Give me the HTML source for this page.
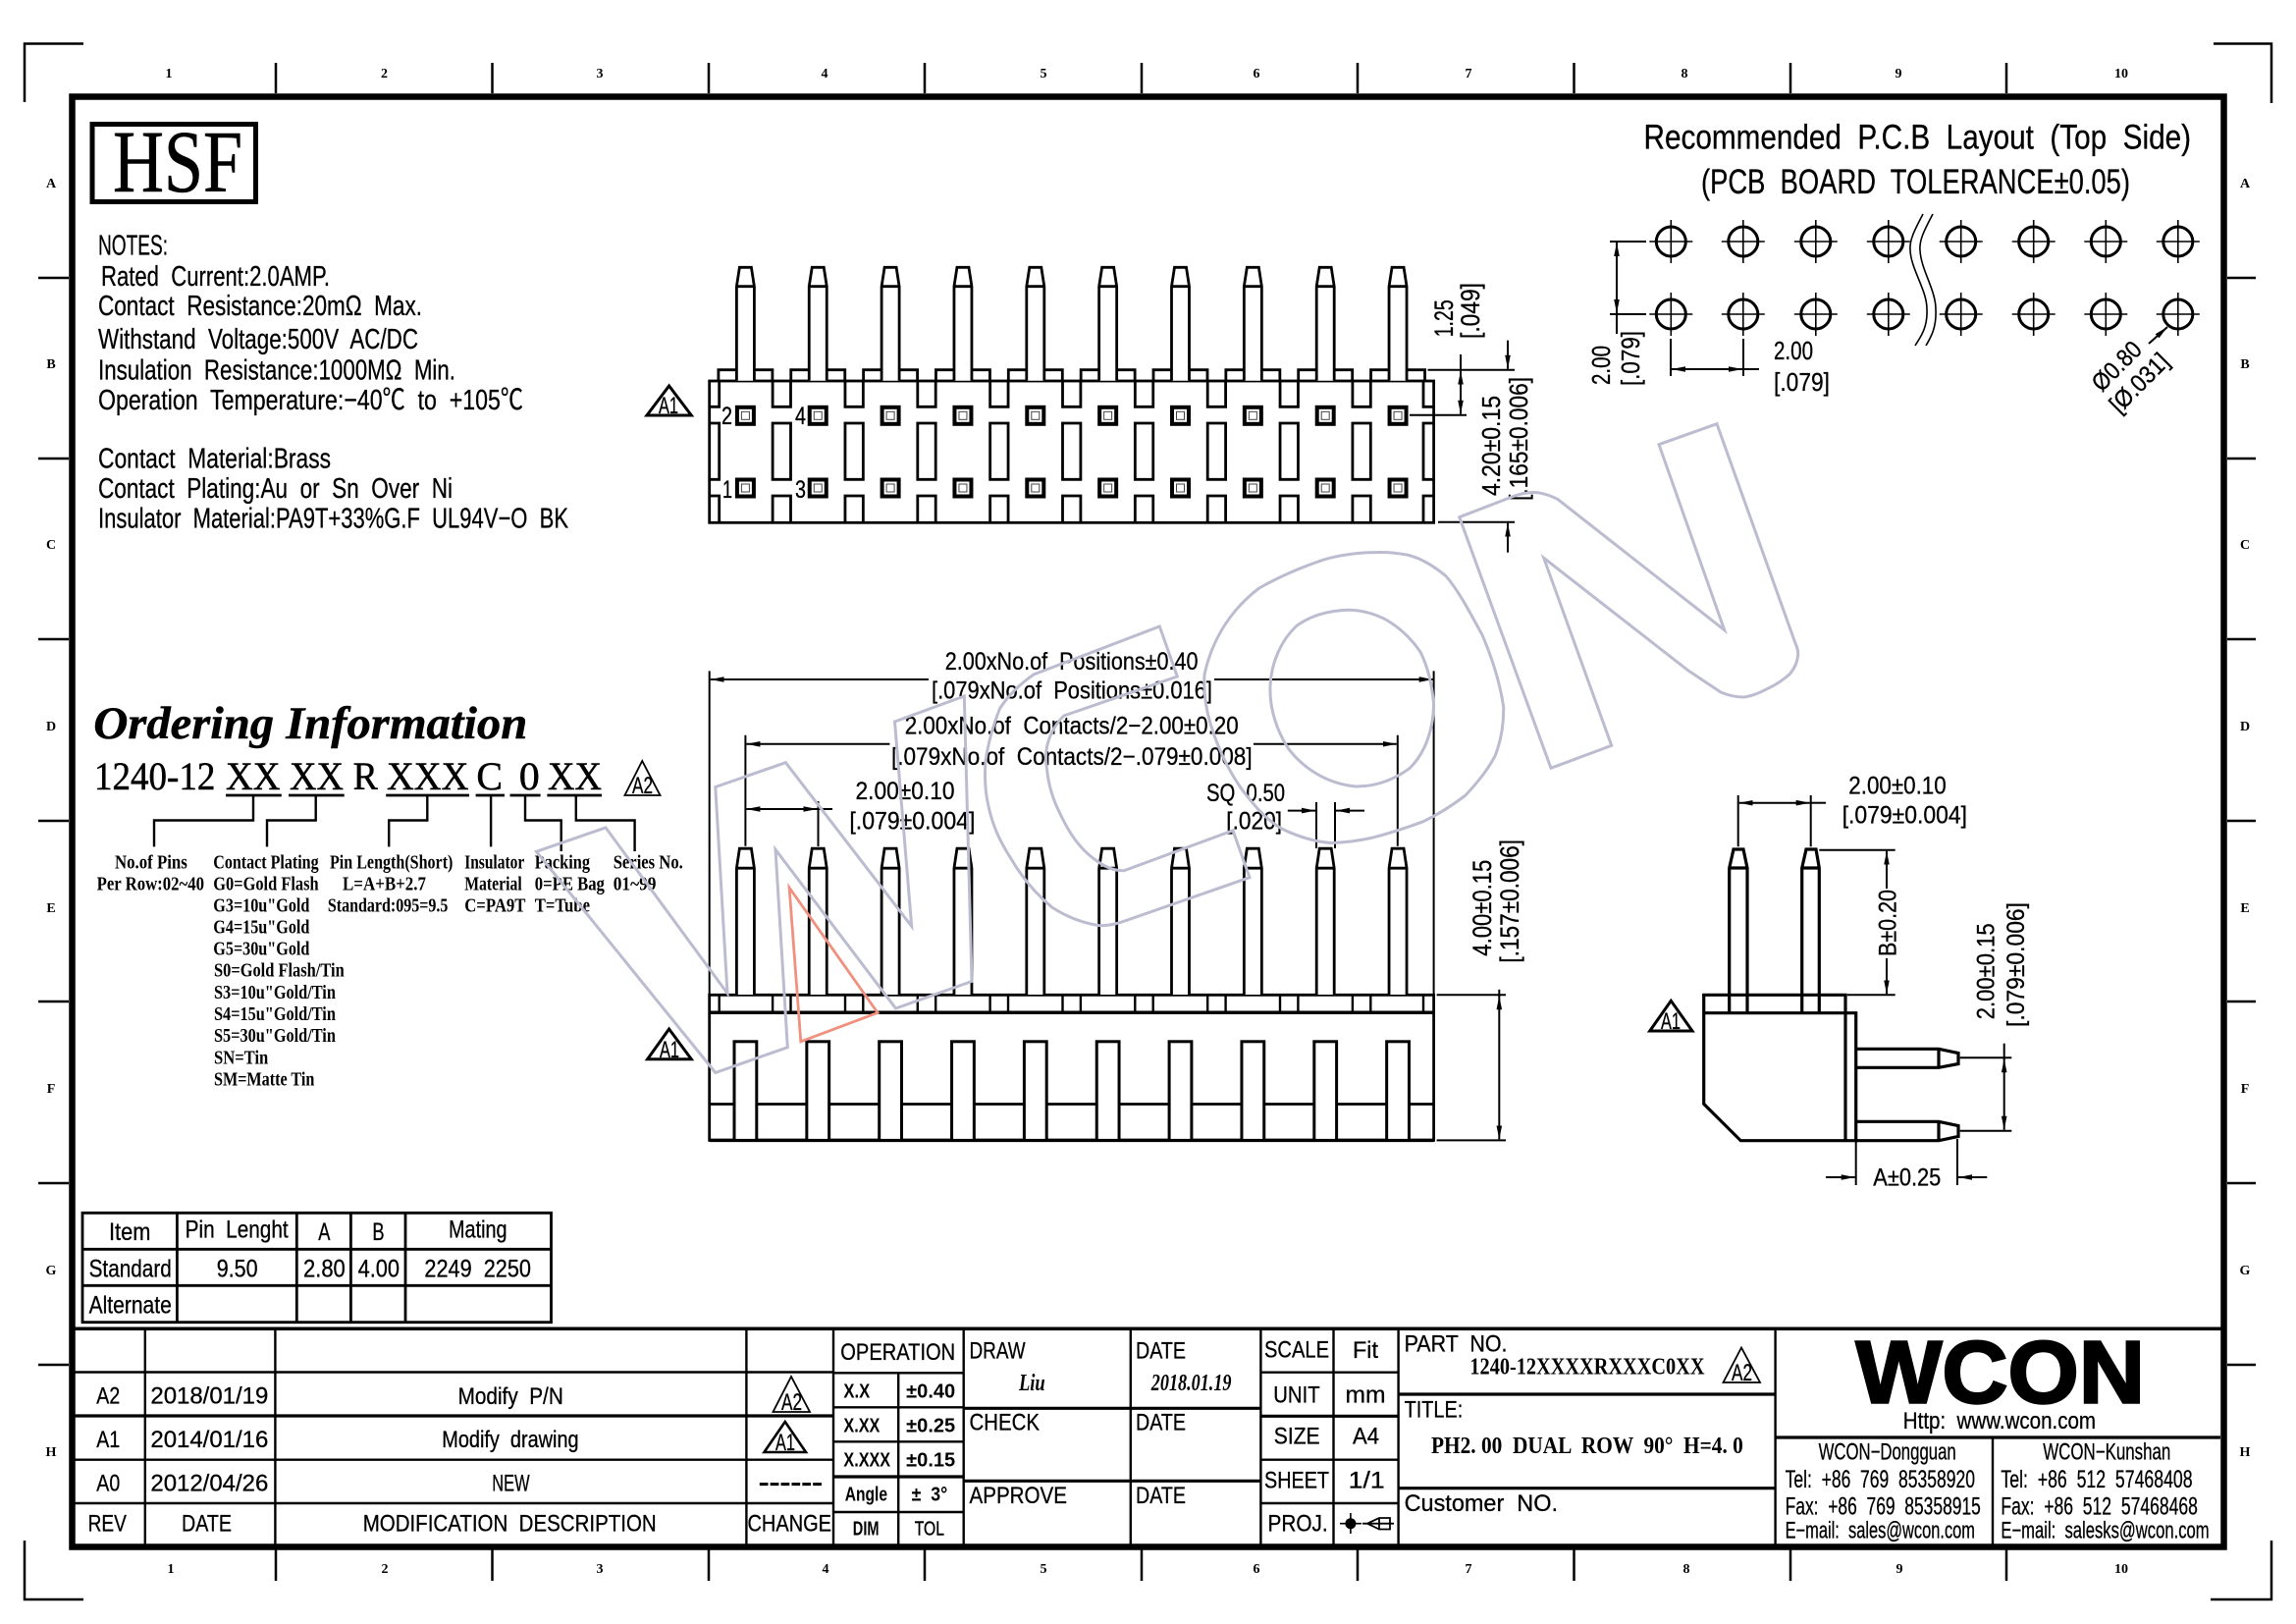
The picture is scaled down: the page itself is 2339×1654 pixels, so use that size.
<!DOCTYPE html>
<html><head><meta charset="utf-8"><title>Drawing</title>
<style>
html,body{margin:0;padding:0;background:#fff}
svg{display:block}
text{fill:#000;font-family:"Liberation Sans","Noto Sans CJK SC",sans-serif;font-size:25px;stroke:#000;stroke-width:.3px;white-space:pre}
.b{font-size:24px}
.n{font-size:29px}
.t{font-size:32px}
.sf{font-family:"Liberation Serif",serif;font-weight:bold;font-size:14px;stroke:none}
.o{font-family:"Liberation Serif",serif;font-size:19.5px;font-weight:bold;stroke:none}
.m{font-family:"Liberation Mono",monospace;font-weight:bold;font-size:24px;stroke-width:0}
.k{fill:none;stroke:#000;stroke-width:2.8}
.d{fill:none;stroke:#000;stroke-width:2}
.w{fill:none;stroke:#bcbcd0;stroke-width:3;stroke-linejoin:miter}
</style></head><body>
<svg xmlns="http://www.w3.org/2000/svg" xml:space="preserve" width="2339" height="1654" viewBox="0 0 2339 1654">
<defs>
<marker id="a" viewBox="0 0 14 6" refX="14" refY="3" markerWidth="14" markerHeight="6" markerUnits="userSpaceOnUse" orient="auto-start-reverse"><path d="M0 .2L14 3L0 5.8Z" fill="#000"/></marker>
<g id="tp"><path class="k" d="M-27.5 387.7V376.7H27.5V387.7" fill="#fff"/><path class="k" style="fill:#fff" d="M-9 387.7V291.7L-6 272.3H6L9 291.7V387.7M-9 291.7H9"/></g>
<g id="sl"><path class="k" d="M-9.2 388V414.3H9.2V388M-9.2 431H9.2V488.3H-9.2ZM-9.2 532V505H9.2V532"/></g>
<g id="h"><rect x="-10.5" y="-10.5" width="21" height="21" fill="#000"/><rect x="-6.5" y="-6.5" width="13" height="13" fill="#fff"/><rect x="-4" y="-4" width="8" height="8" fill="#fff" stroke="#444" stroke-width="1"/></g>
<g id="fp"><path class="k" style="fill:#fff" d="M-9 1013V884.2L-6 864.2H6L9 884.2V1013M-9 884.2H9"/><rect class="k" style="fill:#fff;stroke-width:3" x="-11.4" y="1060.8" width="22.8" height="100.6"/></g>
<g id="ch"><circle r="15" fill="none" stroke="#000" stroke-width="3"/><path d="M-22 0H22M0-22V22" stroke="#000" stroke-width="1.6"/></g>
</defs>
<rect width="2339" height="1654" fill="#fff"/>

<!-- frame and zones -->
<rect x="73.5" y="98.5" width="2192" height="1477" fill="none" stroke="#000" stroke-width="6.5"/>
<g fill="none" stroke="#000" stroke-width="2.5">
<path d="M85 44.5H25V104M2255 44.5H2314V105M25 1569V1629H85M2252 1629H2314V1569"/>
<path d="M281 64V95M501.5 64V95M722 64V95M942 64V95M1163 64V95M1383 64V95M1603.5 64V95M1824 64V95M2044 64V95"/>
<path d="M281 1578V1610M501.5 1578V1610M722 1578V1610M942 1578V1610M1163 1578V1610M1383 1578V1610M1603.5 1578V1610M1824 1578V1610M2044 1578V1610"/>
<path d="M39 283H70M39 467H70M39 651H70M39 836H70M39 1020H70M39 1205H70M39 1390H70"/>
<path d="M2269 283H2298M2269 467H2298M2269 651H2298M2269 836H2298M2269 1020H2298M2269 1205H2298M2269 1390H2298"/>
</g>
<g>
<text class="sf" x="172" y="79" text-anchor="middle">1</text><text class="sf" x="391.5" y="79" text-anchor="middle">2</text><text class="sf" x="611" y="79" text-anchor="middle">3</text><text class="sf" x="840" y="79" text-anchor="middle">4</text><text class="sf" x="1063" y="79" text-anchor="middle">5</text><text class="sf" x="1280" y="79" text-anchor="middle">6</text><text class="sf" x="1496" y="79" text-anchor="middle">7</text><text class="sf" x="1716" y="79" text-anchor="middle">8</text><text class="sf" x="1934" y="79" text-anchor="middle">9</text><text class="sf" x="2161" y="79" text-anchor="middle">10</text>
<text class="sf" x="174" y="1602" text-anchor="middle">1</text><text class="sf" x="392" y="1602" text-anchor="middle">2</text><text class="sf" x="611" y="1602" text-anchor="middle">3</text><text class="sf" x="841" y="1602" text-anchor="middle">4</text><text class="sf" x="1063" y="1602" text-anchor="middle">5</text><text class="sf" x="1280" y="1602" text-anchor="middle">6</text><text class="sf" x="1496" y="1602" text-anchor="middle">7</text><text class="sf" x="1718" y="1602" text-anchor="middle">8</text><text class="sf" x="1935" y="1602" text-anchor="middle">9</text><text class="sf" x="2161" y="1602" text-anchor="middle">10</text>
<text class="sf" x="52" y="191" text-anchor="middle">A</text><text class="sf" x="52" y="375" text-anchor="middle">B</text><text class="sf" x="52" y="559" text-anchor="middle">C</text><text class="sf" x="52" y="744" text-anchor="middle">D</text><text class="sf" x="52" y="929" text-anchor="middle">E</text><text class="sf" x="52" y="1113" text-anchor="middle">F</text><text class="sf" x="52" y="1298" text-anchor="middle">G</text><text class="sf" x="52" y="1483" text-anchor="middle">H</text>
<text class="sf" x="2287" y="191" text-anchor="middle">A</text><text class="sf" x="2287" y="375" text-anchor="middle">B</text><text class="sf" x="2287" y="559" text-anchor="middle">C</text><text class="sf" x="2287" y="744" text-anchor="middle">D</text><text class="sf" x="2287" y="929" text-anchor="middle">E</text><text class="sf" x="2287" y="1113" text-anchor="middle">F</text><text class="sf" x="2287" y="1298" text-anchor="middle">G</text><text class="sf" x="2287" y="1483" text-anchor="middle">H</text>
</g>

<!-- HSF -->
<rect x="94" y="126.5" width="166.5" height="79" fill="none" stroke="#000" stroke-width="5"/>
<text x="115" y="195" textLength="132" lengthAdjust="spacingAndGlyphs" style="font-family:'Liberation Serif',serif;font-size:90px;stroke-width:.6px">HSF</text>

<!-- notes -->
<g>
<text class="n" x="100" y="259.5" textLength="71" lengthAdjust="spacingAndGlyphs">NOTES:</text>
<text class="n" x="103" y="291" textLength="233" lengthAdjust="spacingAndGlyphs">Rated  Current:2.0AMP.</text>
<text class="n" x="100" y="321" textLength="330" lengthAdjust="spacingAndGlyphs">Contact  Resistance:20mΩ  Max.</text>
<text class="n" x="100" y="355" textLength="326" lengthAdjust="spacingAndGlyphs">Withstand  Voltage:500V  AC/DC</text>
<text class="n" x="100" y="386.5" textLength="364" lengthAdjust="spacingAndGlyphs">Insulation  Resistance:1000MΩ  Min.</text>
<text class="n" x="100" y="417" textLength="433" lengthAdjust="spacingAndGlyphs">Operation  Temperature:−40℃  to  +105℃</text>
<text class="n" x="100" y="476.5" textLength="237" lengthAdjust="spacingAndGlyphs">Contact  Material:Brass</text>
<text class="n" x="100" y="507" textLength="361" lengthAdjust="spacingAndGlyphs">Contact  Plating:Au  or  Sn  Over  Ni</text>
<text class="n" x="100" y="537.7" textLength="479" lengthAdjust="spacingAndGlyphs">Insulator  Material:PA9T+33%G.F  UL94V−O  BK</text>
</g>

<!-- PCB layout -->
<text x="1674.5" y="151.7" textLength="557.5" lengthAdjust="spacingAndGlyphs" style="font-size:35px">Recommended  P.C.B  Layout  (Top  Side)</text>
<text x="1733" y="197" textLength="437" lengthAdjust="spacingAndGlyphs" style="font-size:35px">(PCB  BOARD  TOLERANCE±0.05)</text>
<use href="#ch" x="1702.3" y="246"/><use href="#ch" x="1775.8" y="246"/><use href="#ch" x="1849.8" y="246"/><use href="#ch" x="1923.8" y="246"/><use href="#ch" x="1997.7" y="246"/><use href="#ch" x="2071.7" y="246"/><use href="#ch" x="2145.3" y="246"/><use href="#ch" x="2218.8" y="246"/>
<use href="#ch" x="1702.3" y="320"/><use href="#ch" x="1775.8" y="320"/><use href="#ch" x="1849.8" y="320"/><use href="#ch" x="1923.8" y="320"/><use href="#ch" x="1997.7" y="320"/><use href="#ch" x="2071.7" y="320"/><use href="#ch" x="2145.3" y="320"/><use href="#ch" x="2218.8" y="320"/>
<path class="d" style="stroke-width:1.6" d="M1959 218C1950 235 1945 245 1946 255C1947 275 1963 295 1963 315C1964 335 1955 345 1951 352M1969 218C1960 235 1955 245 1956 255C1957 275 1972 295 1972 315C1973 335 1966 345 1962 352"/>
<path class="d" d="M1640 246H1677M1640 320H1677"/>
<path class="d" marker-start="url(#a)" marker-end="url(#a)" d="M1647 247V319"/>
<path class="d" d="M1647 320V340M1702 345V383M1776 345V383"/>
<path class="d" d="M1776 376H1792"/>
<path class="d" marker-start="url(#a)" marker-end="url(#a)" d="M1703 376H1775"/>
<text transform="translate(1640 392) rotate(-90)" textLength="40" lengthAdjust="spacingAndGlyphs" style="font-size:26px">2.00</text>
<text transform="translate(1670 393) rotate(-90)" textLength="56" lengthAdjust="spacingAndGlyphs" style="font-size:26px">[.079]</text>
<text x="1807" y="366" textLength="40" lengthAdjust="spacingAndGlyphs" style="font-size:26px">2.00</text>
<text x="1807" y="398" textLength="57" lengthAdjust="spacingAndGlyphs" style="font-size:26px">[.079]</text>
<path class="d" marker-end="url(#a)" d="M2189 350L2208 333"/>
<text transform="translate(2141 400) rotate(-45)" textLength="60" lengthAdjust="spacingAndGlyphs" style="font-size:25px">Ø0.80</text>
<text transform="translate(2159 422) rotate(-45)" textLength="74" lengthAdjust="spacingAndGlyphs" style="font-size:25px">[Ø.031]</text>

<!-- top view -->
<rect class="k" x="722.7" y="388" width="737.9" height="144.3"/>
<use href="#tp" x="759.4"/><use href="#tp" x="833.25"/><use href="#tp" x="907.1"/><use href="#tp" x="980.95"/><use href="#tp" x="1054.8"/><use href="#tp" x="1128.65"/><use href="#tp" x="1202.5"/><use href="#tp" x="1276.35"/><use href="#tp" x="1350.2"/><use href="#tp" x="1424.05"/>
<use href="#sl" x="796.3"/><use href="#sl" x="870.15"/><use href="#sl" x="944"/><use href="#sl" x="1017.85"/><use href="#sl" x="1091.7"/><use href="#sl" x="1165.55"/><use href="#sl" x="1239.4"/><use href="#sl" x="1313.25"/><use href="#sl" x="1387.1"/>
<path class="k" d="M722.5 414.3H732.7V388M722.5 431H732.7V488.3H722.5M722.5 505H732.7V532M1460.6 414.3H1450V388M1460.6 431H1450V488.3H1460.6M1460.6 505H1450V532"/>
<use href="#h" x="759.4" y="423.3"/><use href="#h" x="833.25" y="423.3"/><use href="#h" x="907.1" y="423.3"/><use href="#h" x="980.95" y="423.3"/><use href="#h" x="1054.8" y="423.3"/><use href="#h" x="1128.65" y="423.3"/><use href="#h" x="1202.5" y="423.3"/><use href="#h" x="1276.35" y="423.3"/><use href="#h" x="1350.2" y="423.3"/><use href="#h" x="1424.05" y="423.3"/>
<use href="#h" x="759.4" y="497"/><use href="#h" x="833.25" y="497"/><use href="#h" x="907.1" y="497"/><use href="#h" x="980.95" y="497"/><use href="#h" x="1054.8" y="497"/><use href="#h" x="1128.65" y="497"/><use href="#h" x="1202.5" y="497"/><use href="#h" x="1276.35" y="497"/><use href="#h" x="1350.2" y="497"/><use href="#h" x="1424.05" y="497"/>
<text x="735" y="432" textLength="11" lengthAdjust="spacingAndGlyphs">2</text><text x="810" y="432" textLength="11" lengthAdjust="spacingAndGlyphs">4</text>
<text x="736" y="507" textLength="10" lengthAdjust="spacingAndGlyphs">1</text><text x="810" y="507" textLength="11" lengthAdjust="spacingAndGlyphs">3</text>
<path class="k" style="stroke-width:3" d="M681.6 393L659 423H704.3Z"/><text x="671" y="421" textLength="20" lengthAdjust="spacingAndGlyphs" style="font-size:24px">A1</text>
<path class="d" d="M1454.5 376.7H1543M1465 531.7H1543M1436 422.7H1494"/>
<path class="d" marker-start="url(#a)" marker-end="url(#a)" d="M1488 377.7V421.7"/><path class="d" d="M1488 361V378"/>
<path class="d" marker-end="url(#a)" d="M1536 346.7V375.7"/>
<path class="d" marker-end="url(#a)" d="M1536 562.7V532.7"/>
<text transform="translate(1480 343.3) rotate(-90)" textLength="38" lengthAdjust="spacingAndGlyphs" style="font-size:27px">1.25</text>
<text transform="translate(1507 345) rotate(-90)" textLength="57" lengthAdjust="spacingAndGlyphs" style="font-size:27px">[.049]</text>
<text transform="translate(1528 505) rotate(-90)" textLength="102" lengthAdjust="spacingAndGlyphs" style="font-size:26px">4.20±0.15</text>
<text transform="translate(1556 510) rotate(-90)" textLength="126" lengthAdjust="spacingAndGlyphs" style="font-size:26px">[.165±0.006]</text>

<!-- front view -->
<path class="k" d="M722.7 1013.3H1460.6V1161.4H722.7ZM722.7 1031.2H1460.6M722.7 1124.5H1460.6"/>
<path class="k" style="stroke-width:3.5" d="M722.7 1031.2H1460.6M722.7 1161.4H1460.6"/>
<path class="d" style="stroke-width:2.4" d="M732.7 1013V1031M1450 1013V1031M787.1 1013V1031M805.5 1013V1031M861 1013V1031M879.3 1013V1031M934.8 1013V1031M953.2 1013V1031M1008.6 1013V1031M1027 1013V1031M1082.5 1013V1031M1100.9 1013V1031M1156.3 1013V1031M1174.7 1013V1031M1230.2 1013V1031M1248.6 1013V1031M1304 1013V1031M1322.4 1013V1031M1377.9 1013V1031M1396.3 1013V1031"/>
<use href="#fp" x="759.4"/><use href="#fp" x="833.25"/><use href="#fp" x="907.1"/><use href="#fp" x="980.95"/><use href="#fp" x="1054.8"/><use href="#fp" x="1128.65"/><use href="#fp" x="1202.5"/><use href="#fp" x="1276.35"/><use href="#fp" x="1350.2"/><use href="#fp" x="1424.05"/>
<path class="k" style="stroke-width:3" d="M681.6 1048L659.6 1078.7H704.3Z"/><text x="672" y="1077" textLength="20" lengthAdjust="spacingAndGlyphs" style="font-size:24px">A1</text>
<path class="d" d="M722.7 683.4V1013M1460.6 683.4V1013M759.4 748.8V861.8M1423.8 748.8V861.8M833.5 816V862M1341 817V864M1360 817V864"/>
<path class="d" marker-start="url(#a)" d="M723.7 692H946"/><path class="d" marker-end="url(#a)" d="M1237 692H1459.6"/>
<path class="d" marker-start="url(#a)" d="M760.4 757.8H906.4"/><path class="d" marker-end="url(#a)" d="M1277 757.8H1422.8"/>
<path class="d" marker-start="url(#a)" marker-end="url(#a)" d="M760.4 824H832.5"/><path class="d" d="M833 824H848"/>
<path class="d" marker-end="url(#a)" d="M1311.8 825.6H1340"/><path class="d" marker-end="url(#a)" d="M1390 825.6H1361"/>
<text x="962.7" y="682" textLength="257.8" lengthAdjust="spacingAndGlyphs">2.00xNo.of  Positions±0.40</text>
<text x="949" y="711.3" textLength="286" lengthAdjust="spacingAndGlyphs">[.079xNo.of  Positions±0.016]</text>
<text x="921.7" y="747.5" textLength="340" lengthAdjust="spacingAndGlyphs">2.00xNo.of  Contacts/2−2.00±0.20</text>
<text x="908" y="779" textLength="367.6" lengthAdjust="spacingAndGlyphs">[.079xNo.of  Contacts/2−.079±0.008]</text>
<text x="871.5" y="814" textLength="101" lengthAdjust="spacingAndGlyphs">2.00±0.10</text>
<text x="865.4" y="844.6" textLength="128" lengthAdjust="spacingAndGlyphs">[.079±0.004]</text>
<text x="1229" y="816" textLength="80" lengthAdjust="spacingAndGlyphs">SQ  0.50</text>
<text x="1249.3" y="844.6" textLength="56.7" lengthAdjust="spacingAndGlyphs">[.020]</text>
<path class="d" d="M1463.6 1013.3H1534M1463.6 1161.4H1534"/>
<path class="d" marker-start="url(#a)" marker-end="url(#a)" d="M1527.3 1014.3V1160.4"/><path class="d" d="M1527.3 1007.8V1015"/>
<text transform="translate(1519 973.7) rotate(-90)" textLength="98" lengthAdjust="spacingAndGlyphs" style="font-size:27px">4.00±0.15</text>
<text transform="translate(1547 980.6) rotate(-90)" textLength="125.6" lengthAdjust="spacingAndGlyphs" style="font-size:27px">[.157±0.006]</text>

<!-- ordering -->
<text x="95.3" y="751.8" textLength="442" lengthAdjust="spacingAndGlyphs" style="font-family:'Liberation Serif',serif;font-weight:bold;font-style:italic;font-size:47px;stroke-width:.5px">Ordering Information</text>
<g>
<text x="96" y="804" textLength="123.4" lengthAdjust="spacingAndGlyphs" style="font-family:'Liberation Serif',serif;font-size:40px;stroke-width:.5px">1240-12</text>
<text x="230" y="804" textLength="55.5" lengthAdjust="spacingAndGlyphs" style="font-family:'Liberation Serif',serif;font-size:40px;stroke-width:.5px">XX</text>
<text x="295" y="804" textLength="55" lengthAdjust="spacingAndGlyphs" style="font-family:'Liberation Serif',serif;font-size:40px;stroke-width:.5px">XX</text>
<text x="359.6" y="804" textLength="25.2" lengthAdjust="spacingAndGlyphs" style="font-family:'Liberation Serif',serif;font-size:40px;stroke-width:.5px">R</text>
<text x="394" y="804" textLength="83.4" lengthAdjust="spacingAndGlyphs" style="font-family:'Liberation Serif',serif;font-size:40px;stroke-width:.5px">XXX</text>
<text x="485.4" y="804" textLength="26.6" lengthAdjust="spacingAndGlyphs" style="font-family:'Liberation Serif',serif;font-size:40px;stroke-width:.5px">C</text>
<text x="528.8" y="804" textLength="21" lengthAdjust="spacingAndGlyphs" style="font-family:'Liberation Serif',serif;font-size:40px;stroke-width:.5px">0</text>
<text x="558" y="804" textLength="55" lengthAdjust="spacingAndGlyphs" style="font-family:'Liberation Serif',serif;font-size:40px;stroke-width:.5px">XX</text>
</g>
<path class="k" d="M230 810H286.8M294 810H350.7M393.2 810H478M484.6 810H514M519.5 810H550.6M557.4 810H613"/>
<path class="d" style="stroke-width:2.4" d="M258 811V835.5H157V862.4M321.7 811V835.5H272V862.4M435.3 811V835.5H396.2V862.4M500.1 811V862.4M535 811V835.5H571.7V867M586.8 811V835.5H646.6V867"/>
<path class="d" style="stroke-width:1.8" d="M654.2 775L636.5 810H672.5Z"/><text x="644" y="808" textLength="21" lengthAdjust="spacingAndGlyphs" style="font-size:24px">A2</text>
<text class="o" x="117" y="884.5" textLength="73.8" lengthAdjust="spacingAndGlyphs">No.of Pins</text>
<text class="o" x="217.3" y="884.5" textLength="107.3" lengthAdjust="spacingAndGlyphs">Contact Plating</text>
<text class="o" x="336" y="884.5" textLength="125.4" lengthAdjust="spacingAndGlyphs">Pin Length(Short)</text>
<text class="o" x="473.2" y="884.5" textLength="61" lengthAdjust="spacingAndGlyphs">Insulator</text>
<text class="o" x="544.8" y="884.5" textLength="56.2" lengthAdjust="spacingAndGlyphs">Packing</text>
<text class="o" x="624.7" y="884.5" textLength="71.1" lengthAdjust="spacingAndGlyphs">Series No.</text>
<text class="o" x="98.6" y="906.5" textLength="109.4" lengthAdjust="spacingAndGlyphs">Per Row:02~40</text>
<text class="o" x="217.3" y="906.5" textLength="107.3" lengthAdjust="spacingAndGlyphs">G0=Gold Flash</text>
<text class="o" x="349" y="906.5" textLength="85" lengthAdjust="spacingAndGlyphs">L=A+B+2.7</text>
<text class="o" x="473.2" y="906.5" textLength="58.5" lengthAdjust="spacingAndGlyphs">Material</text>
<text class="o" x="544.8" y="906.5" textLength="71.1" lengthAdjust="spacingAndGlyphs">0=PE Bag</text>
<text class="o" x="624.7" y="906.5" textLength="43.8" lengthAdjust="spacingAndGlyphs">01~99</text>
<text class="o" x="217.3" y="928.6" textLength="98.1" lengthAdjust="spacingAndGlyphs">G3=10u"Gold</text>
<text class="o" x="333.9" y="928.6" textLength="122.5" lengthAdjust="spacingAndGlyphs">Standard:095=9.5</text>
<text class="o" x="473.2" y="928.6" textLength="62.3" lengthAdjust="spacingAndGlyphs">C=PA9T</text>
<text class="o" x="544.8" y="928.6" textLength="56.2" lengthAdjust="spacingAndGlyphs">T=Tube</text>
<text class="o" x="217.3" y="950.6" textLength="98.1" lengthAdjust="spacingAndGlyphs">G4=15u"Gold</text>
<text class="o" x="217.3" y="972.7" textLength="98.1" lengthAdjust="spacingAndGlyphs">G5=30u"Gold</text>
<text class="o" x="218" y="994.7" textLength="132.7" lengthAdjust="spacingAndGlyphs">S0=Gold Flash/Tin</text>
<text class="o" x="218" y="1017" textLength="123.9" lengthAdjust="spacingAndGlyphs">S3=10u"Gold/Tin</text>
<text class="o" x="218" y="1039" textLength="123.9" lengthAdjust="spacingAndGlyphs">S4=15u"Gold/Tin</text>
<text class="o" x="218" y="1061" textLength="123.9" lengthAdjust="spacingAndGlyphs">S5=30u"Gold/Tin</text>
<text class="o" x="218" y="1083.7" textLength="55.3" lengthAdjust="spacingAndGlyphs">SN=Tin</text>
<text class="o" x="218" y="1105.7" textLength="102.4" lengthAdjust="spacingAndGlyphs">SM=Matte Tin</text>

<!-- side view -->
<path class="k" style="stroke-width:3.2" d="M1735.7 1031.7V1013.3H1880V1161.7M1735.7 1031.7H1890.7V1161.7H1773.3L1735.7 1124.3V1031.7"/>
<path class="k" style="stroke-width:3.2" d="M1761.7 1031V884L1766 865H1776L1780 884V1031M1761.7 884H1780M1835.7 1031V884L1840 865H1850L1853.3 884V1031M1835.7 884H1853.3"/>
<path class="k" style="stroke-width:3.2" d="M1890.7 1068.3H1975L1995 1072.5V1083.5L1975 1087.3H1890.7M1975 1068.3V1087.3M1890.7 1142.3H1975L1995 1146.5V1157.5L1975 1161.7H1890.7M1975 1142.3V1161.7"/>
<path class="k" style="stroke-width:3" d="M1702.3 1019.3L1680.7 1050H1724Z"/><text x="1692" y="1048" textLength="20" lengthAdjust="spacingAndGlyphs" style="font-size:24px">A1</text>
<path class="d" d="M1770.7 810V862.3M1844.7 810V862.3M1853.3 865.7H1930.7M1881.7 1013.3H1930.7M1996.7 1077.3H2049.3M1996.7 1151.7H2049.3M1890.7 1163V1207M1994 1160V1207"/>
<path class="d" marker-start="url(#a)" marker-end="url(#a)" d="M1771.7 817.7H1843.7"/><path class="d" d="M1844 817.7H1860"/>
<path class="d" marker-start="url(#a)" d="M1922 866.7V905"/><path class="d" marker-end="url(#a)" d="M1922 976V1012.3"/>
<path class="d" marker-start="url(#a)" marker-end="url(#a)" d="M2041.7 1078.3V1150.7"/><path class="d" d="M2041.7 1062.7V1079"/>
<path class="d" marker-end="url(#a)" d="M1860 1199H1889.7"/><path class="d" marker-end="url(#a)" d="M2024.3 1199H1995"/>
<text x="1883.3" y="808.3" textLength="99.4" lengthAdjust="spacingAndGlyphs" style="font-size:25px">2.00±0.10</text>
<text x="1876.7" y="838.3" textLength="127.3" lengthAdjust="spacingAndGlyphs" style="font-size:25px">[.079±0.004]</text>
<text transform="translate(1931.7 974) rotate(-90)" textLength="68" lengthAdjust="spacingAndGlyphs" style="font-size:25px">B±0.20</text>
<text transform="translate(2031.7 1038.3) rotate(-90)" textLength="98" lengthAdjust="spacingAndGlyphs" style="font-size:25px">2.00±0.15</text>
<text transform="translate(2062 1046) rotate(-90)" textLength="127" lengthAdjust="spacingAndGlyphs" style="font-size:25px">[.079±0.006]</text>
<text x="1908.3" y="1207.7" textLength="69" lengthAdjust="spacingAndGlyphs" style="font-size:25px">A±0.25</text>

<!-- small table -->
<path class="k" d="M84 1235.3H561.5V1346.7H84ZM84 1272.3H561.5M84 1309.3H561.5M180.4 1235.3V1346.7M302.3 1235.3V1346.7M357.4 1235.3V1346.7M413 1235.3V1346.7"/>
<text x="111" y="1263" textLength="42.4" lengthAdjust="spacingAndGlyphs">Item</text>
<text x="188.6" y="1260.7" textLength="105.1" lengthAdjust="spacingAndGlyphs">Pin  Lenght</text>
<text x="324.3" y="1263" textLength="12.2" lengthAdjust="spacingAndGlyphs">A</text>
<text x="379.4" y="1263" textLength="12.2" lengthAdjust="spacingAndGlyphs">B</text>
<text x="457" y="1260.7" textLength="59.6" lengthAdjust="spacingAndGlyphs">Mating</text>
<text x="90.6" y="1300.7" textLength="84.2" lengthAdjust="spacingAndGlyphs">Standard</text>
<text x="220.7" y="1300.7" textLength="41.9" lengthAdjust="spacingAndGlyphs">9.50</text>
<text x="309" y="1300.7" textLength="42.8" lengthAdjust="spacingAndGlyphs">2.80</text>
<text x="364.6" y="1300.7" textLength="42.4" lengthAdjust="spacingAndGlyphs">4.00</text>
<text x="432.4" y="1300.7" textLength="108.6" lengthAdjust="spacingAndGlyphs">2249  2250</text>
<text x="90.6" y="1337.3" textLength="84.2" lengthAdjust="spacingAndGlyphs">Alternate</text>

<!-- title block -->
<path d="M73.5 1353.3H2265.5" stroke="#000" stroke-width="3.5"/>
<g fill="none" stroke="#000" stroke-width="2.4">
<path d="M147.8 1353V1573M280.4 1353V1573M760.4 1353V1573M849 1353V1573M915.2 1398V1573M981.7 1353V1573M1151.8 1353V1573M1284.4 1353V1573M1358.5 1353V1573M1424.6 1353V1573M1808.6 1353V1573M2030 1464V1573"/>
<path d="M76 1397.5H849M76 1486.7H849M76 1531H849M849 1398.3H981.7M849 1433.3H981.7M849 1468.3H981.7M849 1540H981.7M1284.4 1397.7H1424.6M1284.4 1486.7H1424.6M1284.4 1531H1424.6"/>
<path stroke-width="3.2" d="M76 1442H849M849 1504H981.7M981.7 1434.3H1284.4M981.7 1508.3H1284.4M1284.4 1442.3H1424.6M1424.6 1420H1808.6M1424.6 1515.7H1808.6M1808.6 1464H2262"/>
</g>
<text class="b" x="98.3" y="1429.3" textLength="23.9" lengthAdjust="spacingAndGlyphs">A2</text>
<text class="b" x="153.4" y="1429.3" textLength="119.9" lengthAdjust="spacingAndGlyphs">2018/01/19</text>
<text class="b" x="466.6" y="1430" textLength="107.2" lengthAdjust="spacingAndGlyphs">Modify  P/N</text>
<text class="b" x="98.3" y="1474" textLength="23.9" lengthAdjust="spacingAndGlyphs">A1</text>
<text class="b" x="153.4" y="1474" textLength="119.9" lengthAdjust="spacingAndGlyphs">2014/01/16</text>
<text class="b" x="450.3" y="1474" textLength="139.3" lengthAdjust="spacingAndGlyphs">Modify  drawing</text>
<text class="b" x="98.3" y="1518.3" textLength="23.9" lengthAdjust="spacingAndGlyphs">A0</text>
<text class="b" x="153.4" y="1518.3" textLength="119.9" lengthAdjust="spacingAndGlyphs">2012/04/26</text>
<text class="b" x="501.3" y="1518.3" textLength="38.3" lengthAdjust="spacingAndGlyphs">NEW</text>
<text x="772.8" y="1518" textLength="65.2" lengthAdjust="spacingAndGlyphs" style="font-size:24px;font-weight:bold">------</text>
<text class="b" x="89.6" y="1559.3" textLength="39.3" lengthAdjust="spacingAndGlyphs">REV</text>
<text class="b" x="185" y="1559.3" textLength="51" lengthAdjust="spacingAndGlyphs">DATE</text>
<text class="b" x="369.7" y="1559.3" textLength="299" lengthAdjust="spacingAndGlyphs">MODIFICATION  DESCRIPTION</text>
<text class="b" x="761.5" y="1559.3" textLength="85.5" lengthAdjust="spacingAndGlyphs">CHANGE</text>
<path class="d" style="stroke-width:1.8" d="M806 1402L787.5 1438H825Z"/><text x="796" y="1436" textLength="21" lengthAdjust="spacingAndGlyphs" style="font-size:24px">A2</text>
<path class="k" style="stroke-width:2.6" d="M799.8 1448L778.5 1479H821Z"/><text x="790" y="1477" textLength="20" lengthAdjust="spacingAndGlyphs" style="font-size:24px">A1</text>

<text class="b" x="856.3" y="1385" textLength="116.9" lengthAdjust="spacingAndGlyphs">OPERATION</text>
<text x="859.4" y="1423.3" textLength="26.8" lengthAdjust="spacingAndGlyphs" style="font-size:20px;font-weight:bold;stroke:none">X.X</text>
<text x="923.2" y="1423.3" textLength="50" lengthAdjust="spacingAndGlyphs" style="font-size:20px;font-weight:bold;stroke:none">±0.40</text>
<text x="859.4" y="1458.3" textLength="37" lengthAdjust="spacingAndGlyphs" style="font-size:20px;font-weight:bold;stroke:none">X.XX</text>
<text x="923.2" y="1458.3" textLength="50" lengthAdjust="spacingAndGlyphs" style="font-size:20px;font-weight:bold;stroke:none">±0.25</text>
<text x="859.4" y="1493.3" textLength="47.7" lengthAdjust="spacingAndGlyphs" style="font-size:20px;font-weight:bold;stroke:none">X.XXX</text>
<text x="923.2" y="1493.3" textLength="50" lengthAdjust="spacingAndGlyphs" style="font-size:20px;font-weight:bold;stroke:none">±0.15</text>
<text x="860.7" y="1528.3" textLength="43.3" lengthAdjust="spacingAndGlyphs" style="font-size:20px;font-weight:bold;stroke:none">Angle</text>
<text x="928.6" y="1528.3" textLength="36.6" lengthAdjust="spacingAndGlyphs" style="font-size:20px;font-weight:bold;stroke:none">±  3°</text>
<text x="868.8" y="1563.3" textLength="26.7" lengthAdjust="spacingAndGlyphs" style="font-size:20px;font-weight:bold;stroke:none">DIM</text>
<text x="931.7" y="1563.3" textLength="30.3" style="font-size:20px;stroke-width:.4px" lengthAdjust="spacingAndGlyphs">TOL</text>
<text class="b" x="987.5" y="1383.3" textLength="57.1" lengthAdjust="spacingAndGlyphs">DRAW</text>
<text x="1038" y="1416" textLength="26.7" lengthAdjust="spacingAndGlyphs" style="font-family:'Liberation Serif',serif;font-style:italic;font-weight:bold;font-size:24px;stroke:none">Liu</text>
<text class="b" x="1157" y="1383.3" textLength="51" lengthAdjust="spacingAndGlyphs">DATE</text>
<text x="1172.8" y="1416" textLength="81.7" lengthAdjust="spacingAndGlyphs" style="font-family:'Liberation Serif',serif;font-style:italic;font-weight:bold;font-size:24px;stroke:none">2018.01.19</text>
<text class="b" x="987.5" y="1456.7" textLength="71.5" lengthAdjust="spacingAndGlyphs">CHECK</text>
<text class="b" x="1157" y="1456.7" textLength="51" lengthAdjust="spacingAndGlyphs">DATE</text>
<text class="b" x="987.5" y="1531" textLength="99.5" lengthAdjust="spacingAndGlyphs">APPROVE</text>
<text class="b" x="1157" y="1531" textLength="51" lengthAdjust="spacingAndGlyphs">DATE</text>
<text class="b" x="1288" y="1382.7" textLength="66" lengthAdjust="spacingAndGlyphs">SCALE</text>
<text class="b" x="1378" y="1383" textLength="26" lengthAdjust="spacingAndGlyphs">Fit</text>
<text class="b" x="1297.3" y="1428.3" textLength="47.3" lengthAdjust="spacingAndGlyphs">UNIT</text>
<text class="b" x="1370.5" y="1428.3" textLength="41.1" lengthAdjust="spacingAndGlyphs">mm</text>
<text class="b" x="1297.8" y="1470.7" textLength="46.8" lengthAdjust="spacingAndGlyphs">SIZE</text>
<text class="b" x="1378" y="1470.7" textLength="27" lengthAdjust="spacingAndGlyphs">A4</text>
<text class="b" x="1288" y="1515.7" textLength="66" lengthAdjust="spacingAndGlyphs">SHEET</text>
<text class="b" x="1373.7" y="1515.7" textLength="37" lengthAdjust="spacingAndGlyphs">1/1</text>
<text class="b" x="1291.5" y="1559.3" textLength="61.2" lengthAdjust="spacingAndGlyphs">PROJ.</text>
<circle cx="1375.9" cy="1551.7" r="5.5" fill="#000"/><path d="M1365 1551.7H1387M1375.9 1541V1562" stroke="#000" stroke-width="1.6"/>
<path d="M1392.9 1551.7L1405 1546H1416V1557.5H1405ZM1405 1546V1557.5M1388 1551.7H1420" fill="none" stroke="#000" stroke-width="1.8"/>

<text class="b" x="1430.6" y="1376.7" textLength="104.9" lengthAdjust="spacingAndGlyphs">PART  NO.</text>
<text class="m" x="1497.4" y="1399.3" textLength="239.1" lengthAdjust="spacingAndGlyphs" style="font-family:'Liberation Serif',serif;font-weight:bold">1240-12XXXXRXXXC0XX</text>
<path class="d" style="stroke-width:1.8" d="M1774 1372.5L1755.5 1408H1793Z"/><text x="1764" y="1406" textLength="21" lengthAdjust="spacingAndGlyphs" style="font-size:24px">A2</text>
<text class="b" x="1430.6" y="1443.3" textLength="59.7" lengthAdjust="spacingAndGlyphs">TITLE:</text>
<text class="m" x="1458" y="1480" textLength="317.8" lengthAdjust="spacingAndGlyphs" style="font-family:'Liberation Serif',serif;font-weight:bold">PH2. 00  DUAL  ROW  90°  H=4. 0</text>
<text class="b" x="1430.6" y="1539" textLength="156.4" lengthAdjust="spacingAndGlyphs">Customer  NO.</text>
<text x="1890.7" y="1428.3" textLength="294.3" lengthAdjust="spacingAndGlyphs" style="font-size:90px;font-weight:bold;stroke-width:2.5px">WCON</text>
<text x="1938.8" y="1455" textLength="196.2" lengthAdjust="spacingAndGlyphs" style="font-size:24px">Http:  www.wcon.com</text>
<text x="1852.6" y="1486.7" textLength="140.1" lengthAdjust="spacingAndGlyphs" style="font-size:24px">WCON−Dongguan</text>
<text x="1818.6" y="1515" textLength="193.4" lengthAdjust="spacingAndGlyphs" style="font-size:25px">Tel:  +86  769  85358920</text>
<text x="1818.6" y="1542.7" textLength="199.3" lengthAdjust="spacingAndGlyphs" style="font-size:25px">Fax:  +86  769  85358915</text>
<text x="1818.6" y="1566.7" textLength="193.4" lengthAdjust="spacingAndGlyphs" style="font-size:24px">E−mail:  sales@wcon.com</text>
<text x="2081.2" y="1486.7" textLength="130.1" lengthAdjust="spacingAndGlyphs" style="font-size:24px">WCON−Kunshan</text>
<text x="2038.4" y="1515" textLength="195.2" lengthAdjust="spacingAndGlyphs" style="font-size:25px">Tel:  +86  512  57468408</text>
<text x="2038.4" y="1542.7" textLength="200.5" lengthAdjust="spacingAndGlyphs" style="font-size:25px">Fax:  +86  512  57468468</text>
<text x="2038.4" y="1566.7" textLength="212.2" lengthAdjust="spacingAndGlyphs" style="font-size:24px">E−mail:  salesks@wcon.com</text>

<!-- watermark -->
<path class="w" d="M546.4 867.3L617 842.9L741 1011.6L728.8 801.5L800.4 776.7L928.7 943.4L911.5 735L982.3 709L990 999.5L912.5 1027L790 865.2L802.3 1066.7L728.8 1092.5Z"/>
<path class="w" d="M1181.3 638L1199.3 689L1083.7 729C1068 745 1063 765 1066.5 782.7C1068 800 1073 815 1079.9 828.6C1090 850 1100 864 1114.3 874.6C1125 883 1135 887 1145 886.8L1256 845.8L1273 893.7L1141 939.6C1133 942 1127 943 1120 942.7C1102 940 1087 934 1072 924.3C1057 912 1042 895 1030 874.6C1018 856 1011 840 1007 821C1003 805 1003 790 1004 775C1007 755 1012 738 1018.6 721.5C1028 707 1040 696 1053 687Z"/>
<path class="w" d="M1401.3 562.6C1380 563 1362 566 1347.7 570.3C1325 578 1302 588 1282.7 599C1255 620 1235 650 1227 687C1226 705 1228 720 1233 736.8C1240 760 1250 782 1263.6 801.8C1277 820 1290 835 1305.7 844C1322 852 1338 857 1355.4 858.5C1372 858 1386 856 1400 852.7C1418 848 1433 843 1450 836.7C1466 829 1480 820 1493 810C1505 797 1515 785 1523 770C1529 755 1532 738 1531.7 720C1528 695 1520 670 1510 646.7C1498 625 1487 603 1473 586.7C1460 576 1447 568 1433 565C1422 563 1412 562 1401.3 562.6Z"/>
<path class="w" d="M1372.6 621.2C1352 622 1335 627 1321 637.3C1305 652 1295 675 1294 698.5C1293 722 1301 745 1313.3 763.6C1332 787 1357 799 1382 801C1403 801 1420 794 1435.8 782.7C1451 768 1460 745 1460.6 717.6C1459 698 1455 680 1447 664C1436 648 1423 637 1409 629.6C1397 624 1385 621 1372.6 621.2Z"/>
<path class="w" d="M1486.7 526.7L1543 505C1552 502 1560 501 1566.7 501.7C1574 503 1580 505 1586.7 508.3L1756.7 641.7L1690 452.7L1749 431.7L1828.3 653.3C1831 660 1832 663 1831.7 666.7C1831 675 1828 681 1823 686.7C1816 693 1808 698 1800 701.7C1792 706 1785 709 1776.7 710C1768 710 1760 708 1753 705L1720 683L1572.7 568.3L1641.7 759.3L1580 782.3Z"/>
<path d="M804.1 904.1L894.1 1031.5L815.8 1060.8Z" fill="none" stroke="#f0907e" stroke-width="2.8"/>
</svg>
</body></html>
